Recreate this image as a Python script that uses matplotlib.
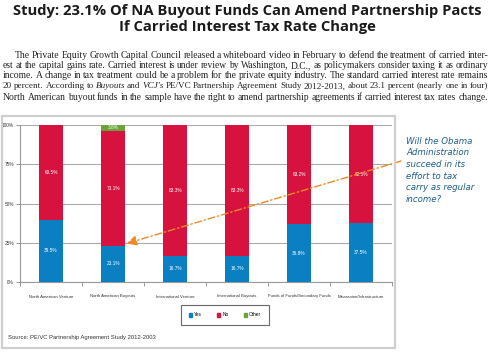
import matplotlib
matplotlib.use("Agg")
import matplotlib.pyplot as plt
from matplotlib.patches import Rectangle, Patch
from matplotlib import font_manager
import numpy as np

categories = ["North American Venture", "North American Buyouts", "International Venture",
              "International Buyouts", "Funds of Funds/Secondary Funds", "Mezzanine/Infrastructure"]
yes_vals = [39.5, 23.1, 16.7, 16.7, 36.8, 37.5]
no_vals = [60.5, 73.1, 83.3, 83.3, 63.2, 62.5]
other_vals = [0, 3.8, 0, 0, 0, 0]
series_names = ["Yes", "No", "Other"]
yticks = [0, 25, 50, 75, 100]
ytick_labels = ["0%", "25%", "50%", "75%", "100%"]

title_lines = ["Study: 23.1% Of NA Buyout Funds Can Amend Partnership Pacts",
               "If Carried Interest Tax Rate Change"]
para_lines = [
    "The Private Equity Growth Capital Council released a whiteboard video in February to defend the treatment of carried inter-",
    "est at the capital gains rate. Carried interest is under review by Washington, D.C., as policymakers consider taxing it as ordinary",
    "income. A change in tax treatment could be a problem for the private equity industry. The standard carried interest rate remains",
    "20 percent. According to *Buyouts and *VCJ's PE/VC Partnership Agreement Study 2012-2013,  about 23.1 percent (nearly one in four)",
    "North American buyout funds in the sample have the right to amend partnership agreements if carried interest tax rates change.",
]
note_lines = ["Will the Obama", "Administration", "succeed in its", "effort to tax", "carry as regular", "income?"]
source_text = "Source: PE/VC Partnership Agreement Study 2012-2003"

avail = {f.name for f in font_manager.fontManager.ttflist}
narrow = "Liberation Sans Narrow" if "Liberation Sans Narrow" in avail else "Liberation Sans"

W, H = 494, 353
fig = plt.figure(figsize=(W / 100, H / 100), dpi=100)
fig.patch.set_facecolor("white")
renderer = fig.canvas.get_renderer()

def fx(px):
    return px / W

def fy(py):
    return 1 - py / H

def width_of(t):
    return t.get_window_extent(renderer).width

def fit(t, target):
    w = width_of(t)
    t.set_fontsize(t.get_fontsize() * target / w)

# Title
t1 = fig.text(0.5, fy(11), title_lines[0], ha="center", va="center", fontsize=12,
              fontweight="bold", family="Open Sans", color="#1a1a1a")
fit(t1, 466)
fs_title = t1.get_fontsize()
fig.text(0.5, fy(26.5), title_lines[1], ha="center", va="center", fontsize=fs_title,
         fontweight="bold", family="Open Sans", color="#1a1a1a")

# Justified paragraph
left_px, right_px = 3, 488
line_ys = [55, 65.5, 76, 86.5, 97]
base = 7.0

def make_words(line, fs, y):
    out = []
    for w in [w for w in line.split(" ") if w != ""]:
        italic = w.startswith("*")
        t = fig.text(0, fy(y), w.lstrip("*"), ha="left", va="center", fontsize=fs,
                     family="Liberation Serif", style="italic" if italic else "normal",
                     color="#222222")
        out.append(t)
    return out

pa = fig.text(0, 0, "a a", fontsize=base, family="Liberation Serif")
pb = fig.text(0, 0, "aa", fontsize=base, family="Liberation Serif")
space_w = width_of(pa) - width_of(pb)
pa.remove(); pb.remove()
ks = []
for li, line in enumerate(para_lines):
    ws = make_words(line, base, 0)
    S = sum(width_of(t) for t in ws)
    avail_w = right_px - left_px - (12 if li == 0 else 0)
    ks.append(avail_w / (S + (len(ws) - 1) * space_w * 0.8))
    for t in ws:
        t.remove()
k_med = float(np.median(ks))

for li, line in enumerate(para_lines):
    start = left_px + (12 if li == 0 else 0)
    fs_line = base * min(k_med, ks[li])
    texts = make_words(line, fs_line, line_ys[li])
    widths = [width_of(t) for t in texts]
    gap = (right_px - start - sum(widths)) / max(len(texts) - 1, 1)
    x = start
    for t, wdt in zip(texts, widths):
        t.set_x(fx(x))
        x += wdt + gap

# Chart box
fig.patches.append(Rectangle((fx(2), fy(348)), fx(393), 232 / H, transform=fig.transFigure,
                             fill=False, edgecolor="#cfcfcf", lw=1.6))

ax = fig.add_axes([fx(20), fy(282), fx(372), 157 / H])
x = np.arange(len(categories))
colors = ["#0a80c2", "#d7123f", "#6aa33a"]
bw = 0.39
yes = np.array(yes_vals)
no = np.array(no_vals)
oth = np.array(other_vals)
ax.bar(x, yes, bw, color=colors[0], label=series_names[0], zorder=3)
ax.bar(x, no, bw, bottom=yes, color=colors[1], label=series_names[1], zorder=3)
ax.bar(x, oth, bw, bottom=yes + no, color=colors[2], label=series_names[2], zorder=3)

small = 3.4
lab_kw = dict(ha="center", va="center", color="white", fontsize=small,
              family=narrow, zorder=4)
for i in range(len(categories)):
    ax.text(x[i], yes[i] / 2, f"{yes[i]:.1f}%", **lab_kw)
    ax.text(x[i], yes[i] + no[i] / 2, f"{no[i]:.1f}%", **lab_kw)
    if oth[i] > 0:
        ax.text(x[i], yes[i] + no[i] + oth[i] / 2, f"{oth[i]:.1f}%", **lab_kw)

ax.set_xlim(-0.5, len(categories) - 0.5)
ax.set_ylim(0, 100)
ax.set_yticks(yticks)
ax.set_yticklabels(ytick_labels, family=narrow, fontsize=small, color="#333333")
ax.set_xticks(x)
ax.set_xticklabels(categories, family=narrow, fontsize=3.05, color="#333333")
ax.set_xticks(np.arange(-0.5, len(categories)), minor=True)
ax.tick_params(axis="x", which="major", length=0, pad=9)
ax.tick_params(axis="x", which="minor", length=3, color="#999999", width=0.7)
ax.tick_params(axis="y", length=3, color="#999999", width=0.7, pad=1.5)
ax.yaxis.grid(True, color="#aaaaaa", lw=0.8, zorder=0)
for s in ["top", "right"]:
    ax.spines[s].set_visible(False)
for s in ["left", "bottom"]:
    ax.spines[s].set_color("#999999")
    ax.spines[s].set_linewidth(0.8)

# Legend
handles = [Patch(color=c, label=n) for c, n in zip(colors, series_names)]
leg = fig.legend(handles=handles, loc="center", bbox_to_anchor=(fx(225), fy(315)), ncol=3,
                 frameon=True, fancybox=False, edgecolor="#444444",
                 handlelength=0.6, handleheight=1.0, handletextpad=0.5, columnspacing=3.2,
                 borderpad=1.6, borderaxespad=0, prop={"family": narrow, "size": small})
leg.get_frame().set_linewidth(0.8)

src = fig.text(fx(8), fy(338), source_text, ha="left", va="center", fontsize=5,
               family="Liberation Sans", color="#333333")
fit(src, 150)

# Note
for i, t in enumerate(note_lines):
    fig.text(fx(406), fy(141 + 11.7 * i), t, ha="left", va="center", fontsize=6.2,
             family="DejaVu Sans", style="italic", color="#1d5f8a")

# Arrow
ax.annotate("", xy=(1.22, 24.5), xycoords="data",
            xytext=(fx(401), fy(161)), textcoords="figure fraction",
            arrowprops=dict(arrowstyle="-|>,head_length=0.6,head_width=0.3", color="#f08a24",
                            lw=1.0, linestyle=(0, (5, 2, 1, 2)), shrinkA=0, shrinkB=0),
            annotation_clip=False, zorder=10)

fig.savefig("out.png", dpi=100, facecolor="white")
